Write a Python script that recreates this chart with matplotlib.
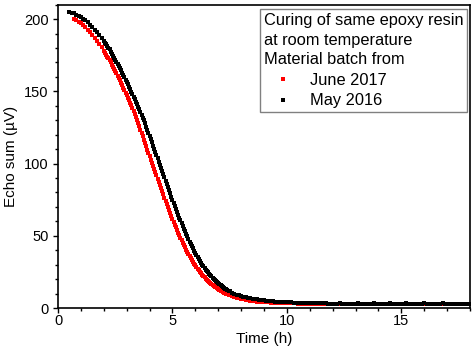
import numpy as np
import matplotlib
matplotlib.use("Agg")
import matplotlib.pyplot as plt
from matplotlib.lines import Line2D
from matplotlib.ticker import MultipleLocator

plt.rcParams['font.family'] = ['Liberation Sans', 'DejaVu Sans']

# ---- data ----
legend_title = "Curing of same epoxy resin\nat room temperature\nMaterial batch from"
series_names = ["June 2017", "May 2016"]

# sampling times (h)
t_black = np.round(np.concatenate([np.arange(0.5, 1.95, 0.1),
                                   np.arange(2.0, 7.49, 0.05),
                                   np.arange(7.5, 18.05, 0.1)]), 3)
t_red = np.round(np.concatenate([np.arange(0.7, 1.95, 0.1),
                                 np.arange(2.0, 7.49, 0.05),
                                 np.arange(7.5, 18.05, 0.1)]), 3)

# May 2016 (black), echo sum in µV
v_black = [
    205.0, 204.5, 204.0, 203.2, 202.4, 201.5, 200.4, 199.2, 197.8, 196.2,
    194.5, 192.8, 191.0, 189.0, 187.0,
    185.0, 183.8, 182.6, 181.4, 180.2,
    179.0, 177.6, 176.2, 174.8, 173.4,
    172.0, 170.5, 169.0, 167.5, 166.0,
    164.5, 162.9, 161.3, 159.7, 158.1,
    156.5, 154.8, 153.1, 151.4, 149.7,
    148.0, 146.3, 144.6, 142.9, 141.2,
    139.5, 137.6, 135.7, 133.8, 131.9,
    130.0, 127.8, 125.6, 123.4, 121.2,
    119.0, 116.8, 114.6, 112.4, 110.2,
    108.0, 105.8, 103.6, 101.4, 99.2,
    97.0, 94.8, 92.6, 90.4, 88.2,
    86.0, 83.8, 81.6, 79.4, 77.2,
    75.0, 72.9, 70.8, 68.7, 66.6,
    64.5, 62.6, 60.7, 58.8, 56.9,
    55.0, 53.2, 51.4, 49.6, 47.8,
    46.0, 44.4, 42.8, 41.2, 39.6,
    38.0, 36.6, 35.2, 33.8, 32.4,
    31.0, 29.9, 28.8, 27.7, 26.6,
    25.5, 24.6, 23.7, 22.8, 21.9,
    21.0, 20.2, 19.4, 18.6, 17.8,
    17.0, 16.4, 15.8, 15.2, 14.6,
    14.0, 13.5, 13.0, 12.5, 12.0,
    11.5, 10.7, 9.9, 9.3, 8.7, 8.2, 7.8, 7.4, 7.0, 6.6,
    6.3, 6.1, 5.9, 5.6, 5.4, 5.2, 5.1, 4.9, 4.8, 4.6,
    4.5, 4.4, 4.3, 4.2, 4.1, 4.0, 3.9, 3.9, 3.8, 3.7,
    3.7, 3.6, 3.6, 3.5, 3.5, 3.4, 3.4, 3.3, 3.3, 3.3,
    3.2, 3.2, 3.2, 3.1, 3.1, 3.1, 3.0, 3.1, 3.2, 3.0,
    3.1, 3.0, 2.9, 3.1, 3.0, 3.1, 3.2, 3.0, 2.9, 3.0,
    3.1, 3.0, 3.1, 3.2, 3.0, 3.1, 3.0, 2.9, 3.0, 3.1,
    3.2, 3.1, 3.0, 3.0, 2.9, 3.1, 3.0, 3.2, 3.1, 3.0,
    3.0, 3.1, 2.9, 3.0, 3.1, 3.2, 3.0, 3.1, 3.0, 2.9,
    3.1, 3.0, 3.1, 3.2, 3.0, 3.0, 3.1, 2.9, 3.0, 3.1,
    3.0, 3.1, 3.0, 2.9, 3.1, 3.0,
]

# June 2017 (red), echo sum in µV
v_red = [
    200.3, 199.2, 198.1, 197.0, 195.7, 194.3, 192.8, 190.9, 189.0, 187.0,
    185.0, 182.8, 180.5,
    178.0, 176.7, 175.4, 174.1, 172.8,
    171.5, 170.0, 168.5, 167.0, 165.5,
    164.0, 162.4, 160.8, 159.2, 157.6,
    156.0, 154.3, 152.6, 150.9, 149.2,
    147.5, 145.7, 143.9, 142.1, 140.3,
    138.5, 136.4, 134.3, 132.2, 130.1,
    128.0, 125.7, 123.4, 121.1, 118.8,
    116.5, 114.2, 111.9, 109.6, 107.3,
    105.0, 102.8, 100.6, 98.4, 96.2,
    94.0, 91.8, 89.6, 87.4, 85.2,
    83.0, 80.8, 78.6, 76.4, 74.2,
    72.0, 69.9, 67.8, 65.7, 63.6,
    61.5, 59.6, 57.7, 55.8, 53.9,
    52.0, 50.3, 48.6, 46.9, 45.2,
    43.5, 42.0, 40.5, 39.0, 37.5,
    36.0, 34.7, 33.4, 32.1, 30.8,
    29.5, 28.4, 27.3, 26.2, 25.1,
    24.0, 23.1, 22.2, 21.3, 20.4,
    19.5, 18.8, 18.1, 17.4, 16.7,
    16.0, 15.4, 14.8, 14.2, 13.6,
    13.0, 12.5, 12.0, 11.5, 11.0,
    10.5, 10.1, 9.7, 9.4, 9.0,
    8.7, 8.1, 7.6, 7.1, 6.7, 6.2, 5.9, 5.6, 5.3, 5.1,
    4.8, 4.7, 4.5, 4.3, 4.2, 4.0, 3.9, 3.9, 3.8, 3.7,
    3.6, 3.6, 3.5, 3.4, 3.4, 3.3, 3.3, 3.2, 3.2, 3.2,
    3.1, 3.1, 3.1, 3.0, 3.0, 2.9, 3.0, 2.9, 2.8, 3.0,
    2.9, 2.8, 2.9, 3.0, 2.9, 2.8, 2.9, 3.0, 2.8, 2.9,
    2.9, 3.0, 2.8, 2.9, 2.9, 2.8, 3.0, 2.9, 2.9, 2.8,
    2.9, 3.0, 2.9, 2.8, 2.9, 2.9, 3.0, 2.8, 2.9, 2.9,
    2.8, 2.9, 3.0, 2.9, 2.9, 2.8, 2.9, 3.0, 2.9, 2.8,
    2.9, 2.9, 3.0, 2.9, 2.8, 2.9, 2.9, 3.0, 2.9, 2.9,
    2.8, 2.9, 3.0, 2.9, 2.9, 2.8, 2.9, 3.0, 2.9, 2.9,
    2.9, 2.8, 2.9, 3.0, 2.9, 2.9,
]

n_b = min(len(t_black), len(v_black))
n_r = min(len(t_red), len(v_red))

fig = plt.figure(figsize=(4.74, 3.52), dpi=100)
ax = fig.add_axes([0.1224, 0.125, 0.8692, 0.8616])

ax.plot(t_red[:n_r], v_red[:n_r], ls='none', marker='s', ms=2.6,
        mew=0, color='#ff0000')
ax.plot(t_black[:n_b], v_black[:n_b], ls='none', marker='s', ms=2.6,
        mew=0, color='black')

ax.set_xlim(0, 18)
ax.set_ylim(0, 210)
ax.xaxis.set_major_locator(MultipleLocator(5))
ax.xaxis.set_minor_locator(MultipleLocator(1))
ax.yaxis.set_major_locator(MultipleLocator(50))
ax.yaxis.set_minor_locator(MultipleLocator(10))
ax.tick_params(which='both', direction='out', top=False, right=False,
               labelsize=10.5, width=1.0)
ax.tick_params(which='major', length=3.6)
ax.tick_params(which='minor', length=2.2)
ax.tick_params(axis='x', which='major', pad=0.8)
ax.tick_params(axis='y', which='major', pad=3.2)
for s in ax.spines.values():
    s.set_linewidth(1.2)

ax.set_xlabel("Time (h)", fontsize=11, labelpad=3)
ax.set_ylabel("Echo sum (µV)", fontsize=11, labelpad=4)

handles = [Line2D([], [], ls='none', marker='s', ms=2.6, mew=0, color='#ff0000'),
           Line2D([], [], ls='none', marker='s', ms=2.6, mew=0, color='black')]
leg = ax.legend(handles, series_names, title=legend_title, loc='upper right',
                bbox_to_anchor=(0.9935, 0.985), fontsize=11.8, title_fontsize=11.8,
                alignment='left', frameon=True, fancybox=False,
                edgecolor='#808080', framealpha=1, borderpad=0.25,
                handlelength=2.4, handletextpad=0.45, labelspacing=0.33,
                borderaxespad=0, numpoints=1)
leg.get_frame().set_linewidth(1.0)
leg.get_title().set_linespacing(1.38)

fig.savefig("out.png", dpi=100)
